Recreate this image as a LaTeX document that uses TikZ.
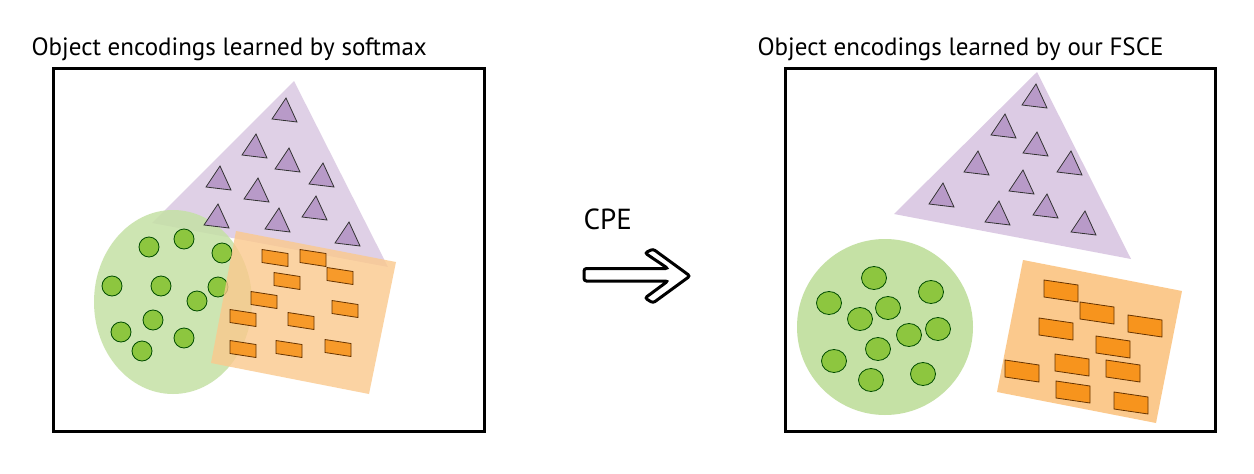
\documentclass[tikz,border=0pt]{standalone}
\usepackage{fontspec}
\setmainfont{PT Sans}
\definecolor{plite}{HTML}{DCCBE4}
\definecolor{pdot}{HTML}{B89AC8}
\definecolor{glite}{HTML}{C5E1A5}
\definecolor{gdot}{HTML}{8DC63F}
\definecolor{olite}{HTML}{FBC98D}
\definecolor{odot}{HTML}{F7941D}
\begin{document}
\begin{tikzpicture}[x=1pt,y=-1pt,
  frame/.style={draw=black,line width=3pt},
  tri/.style={fill=pdot,draw=black!80,line width=0.8pt},
  dot/.style={fill=gdot,draw=black!70!green,line width=0.8pt},
  brick/.style={fill=odot,draw=black!60!orange,line width=0.8pt},
  title/.style={font=\fontsize{25}{28}\selectfont,anchor=base west}]
\useasboundingbox (0,0) rectangle (1254,474);
\fill[white] (0,0) rectangle (1254,474);
% titles
\node[title] (t1) at (28,55) {Object encodings learned by softmax};
\node[title] (t2) at (754,55) {Object encodings learned by our FSCE};
% left panel
\draw[frame] (53,68) rectangle (484,431);
\fill[plite,fill opacity=0.9] (294,81) -- (152,223) -- (388,267) -- cycle;
\fill[glite,fill opacity=0.85] (173,302) ellipse [x radius=79,y radius=92];
\foreach \x/\y in {285/113,255/149,288/163,322/178,219/181,257/193,315/211,278/223,217/219,348/237}
  \draw[tri] (\x+1,\y-15) -- (\x-13,\y+6) -- (\x+12,\y+9) -- cycle;
\foreach \x/\y in {149/247,184/239,222/253,112/286,161/286,218/287,197/301,153/320,121/332,142/351,184/338}
  \draw[dot] (\x,\y) circle (10);
\fill[olite,fill opacity=0.8] (236,231) -- (396,262) -- (369,394) -- (211,363) -- cycle;
\foreach \x/\y in {275/258,313/258,340/276,287/281,264/300,345/309,243/318,301/321,243/349,289/349,338/348}
  \draw[brick,fill opacity=0.9] (\x-13,\y-8.5) -- (\x+13,\y-4.5) -- (\x+13,\y+8.5) -- (\x-13,\y+4.5) -- cycle;
% right panel
\draw[frame] (785,68) rectangle (1215,431);
\fill[plite] (1037,72) -- (894,214) -- (1131,259) -- cycle;
\foreach \x/\y in {1035/99,1004/129,1036/147,977/166,1070/166,1022/185,942/198,1046/209,998/216,1084/226}
  \draw[tri] (\x+1,\y-15) -- (\x-13,\y+6) -- (\x+12,\y+9) -- cycle;
\fill[glite] (885,327) circle (88);
\foreach \x/\y in {874/278,829/303,931/292,888/308,860/319,938/329,909/335,878/349,834/361,923/374,871/380}
  \draw[dot] (\x,\y) ellipse [x radius=12.5,y radius=11.5];
\fill[olite] (1023,260) -- (1182,291) -- (1156,423) -- (997,392) -- cycle;
\foreach \x/\y in {1061/291,1097/313,1145/326,1056/329,1113/347,1072/365,1022/371,1123/371,1073/392,1131/403}
  \draw[brick] (\x-17,\y-11) -- (\x+17,\y-6) -- (\x+17,\y+11) -- (\x-17,\y+6) -- cycle;
% arrow
\node[font=\fontsize{29}{32}\selectfont,anchor=base west] (cpe) at (580,229) {CPE};
\coordinate (a0) at (584,274.5);
\coordinate (a1) at (690,276);
\draw[line width=3pt,fill=white,rounded corners=2.5pt]
  (a0) ++(0,-6) -- (668,268.5) -- (645,253) -- (653,249) -- (a1) -- (653,303) -- (645,298) -- (668,281) -- (584,281) -- cycle;
\end{tikzpicture}
\end{document}
